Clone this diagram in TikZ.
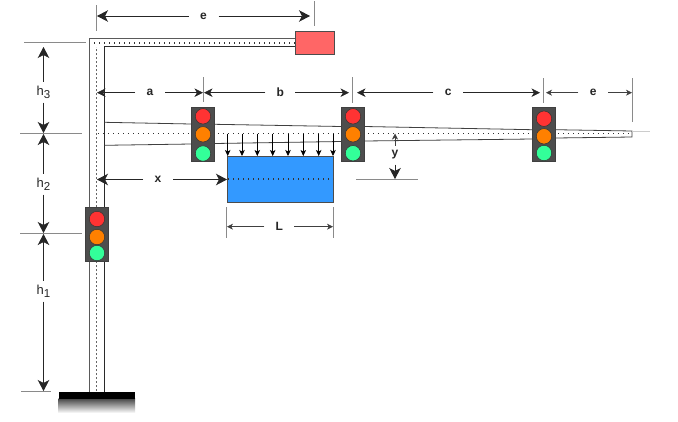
\documentclass[tikz,border=0pt]{standalone}
\usepackage{fontspec}
\setmainfont{Liberation Sans}
\usetikzlibrary{arrows.meta,shadings,calc}
\definecolor{sigbody}{HTML}{4D4D4D}
\definecolor{sigred}{HTML}{FF3333}
\definecolor{sigorange}{HTML}{FF8000}
\definecolor{siggreen}{HTML}{33FF99}
\definecolor{boxred}{HTML}{FF6666}
\definecolor{boxblue}{HTML}{3399FF}
\definecolor{extgrey}{HTML}{8A8A8A}
\definecolor{poleL}{HTML}{5A5A5A}
\definecolor{poleR}{HTML}{2A2A2A}
\tikzset{
  sig/.style={draw=black!75,fill=sigbody,line width=.6pt,minimum width=23.4pt,minimum height=54pt,inner sep=0,outer sep=0},
  lamp/.style={circle,draw=black!80,line width=.5pt,minimum size=15.4pt,inner sep=0,outer sep=0},
  ext/.style={draw=extgrey,line width=1pt},
  pole/.style={line width=1pt},
  dots/.style={line width=1.2pt,draw=black!80,dash pattern=on 1.2pt off 3.8pt},
  big/.style={draw=black!85,line width=.7pt,-{Stealth[length=11pt,width=11.5pt,inset=3pt]}},
  mid/.style={draw=black!85,line width=.7pt,-{Stealth[length=8.5pt,width=8.5pt,inset=2.5pt]}},
  small/.style={draw=black!75,line width=.7pt,-{Stealth[length=6pt,width=6pt,inset=1.8pt]}},
  load/.style={draw=black,line width=.7pt,-{Stealth[length=6pt,width=5.5pt,inset=1.5pt]}},
  lab/.style={font=\fontsize{12}{14}\selectfont\bfseries,text=black!85,inner sep=0,outer sep=0,minimum width=30pt,minimum height=14pt},
  hlab/.style={font=\fontsize{13}{15}\selectfont,text=black!85,inner sep=0,outer sep=0,minimum width=20pt,minimum height=21pt},
}
\newcommand{\trafficsig}[6]{%
  \node[sig] (#1) at (#2,#3) {};
  \node[lamp,fill=sigred] (#1r) at (#2,#4) {};
  \node[lamp,fill=sigorange] (#1o) at (#2,#5) {};
  \node[lamp,fill=siggreen] (#1g) at (#2,#6) {};
}
\newcommand{\hsub}[1]{h\raisebox{-3pt}{\fontsize{11.5}{13}\selectfont #1}}
\begin{document}
\begin{tikzpicture}[x=1pt,y=-1pt]
\useasboundingbox (0,0) rectangle (678,421);
\fill[white] (0,0) rectangle (678,421);

% ground
\shade[top color=black!75,bottom color=white] (58.7,398) rectangle (135,413);
\node[fill=black,draw=none,minimum width=76.3pt,minimum height=7.6pt,inner sep=0,outer sep=0] (ground) at (96.85,395.5) {};

% gantry pole and arm
\coordinate (pBL) at (89,391.7);
\coordinate (pTL) at (89,38.5);
\coordinate (aTR) at (295.3,38.5);
\coordinate (pBR) at (104.3,391.7);
\coordinate (pIn) at (104.3,46);
\coordinate (aBR) at (295.3,46);
\draw[pole,draw=poleL] (pBL) -- (pTL) -- (aTR);
\draw[pole,draw=poleR] (pBR) -- (pIn) -- (aBR);
\coordinate (dpB) at (96.7,391);
\coordinate (dpT) at (96.7,47);
\draw[draw=black!60,line width=.8pt,dash pattern=on 2pt off 2pt] (dpB) -- (dpT);
\coordinate (daL) at (94,43);
\coordinate (daR) at (295,43);
\draw[dots] (daL) -- (daR);
\node[draw=black!70,fill=boxred,line width=.7pt,minimum width=38.7pt,minimum height=23pt,inner sep=0,outer sep=0] (head) at (314.6,42.5) {};

% tapered beam
\coordinate (bT0) at (104.5,122.3);
\coordinate (bT1) at (191.3,124);
\coordinate (bT2) at (214.7,124.3);
\coordinate (bT3) at (341.3,126.5);
\coordinate (bT4) at (364.7,126.5);
\coordinate (bT5) at (532.3,129.7);
\coordinate (bT6) at (555.7,129.7);
\coordinate (bT7) at (632,131);
\coordinate (bB0) at (104.5,145.3);
\coordinate (bB1) at (191.3,144);
\coordinate (bB2) at (214.7,143.5);
\coordinate (bB3) at (341.3,141.5);
\coordinate (bB4) at (364.7,141);
\coordinate (bB5) at (532.3,139);
\coordinate (bB6) at (555.7,138);
\coordinate (bB7) at (632,137);
\coordinate (bTail) at (650,131);
\draw[line width=.8pt,draw=black!75] (bT0) -- (bT1) (bT2) -- (bT3) (bT4) -- (bT5) (bT6) -- (bT7) -- (bB7) -- (bB6) (bB5) -- (bB4) (bB3) -- (bB2) (bB1) -- (bB0);
\draw[line width=.8pt,draw=black!20] (bT7) -- (bTail);
\coordinate (bdL) at (98,133.3);
\coordinate (bdR) at (629,133.3);
\draw[dots] (bdL) -- (bdR);

% load
\foreach \i/\xx in {1/227.7,2/242,3/257.3,4/272.7,5/288,6/303.3,7/318.7,8/333}{
  \coordinate (lt\i) at (\xx,133.5);
  \coordinate (lb\i) at (\xx,156);
  \draw[load] (lt\i) -- (lb\i);
}
\node[draw=black!70,fill=boxblue,line width=.7pt,minimum width=106.7pt,minimum height=46pt,inner sep=0,outer sep=0] (sign) at (280.3,179) {};
\coordinate (sdL) at (228,179);
\coordinate (sdR) at (333,179);
\draw[dots] (sdL) -- (sdR);

% signals
\trafficsig{s0}{97}{234.5}{219}{237}{253}
\trafficsig{s1}{203}{134.7}{116.3}{134.3}{153.5}
\trafficsig{s2}{353}{134.7}{116.3}{134.3}{153.2}
\trafficsig{s3}{544}{134.7}{118.7}{136.3}{153}

% extension lines
\coordinate (x1a) at (24,42.5);   \coordinate (x1b) at (86,42.5);
\coordinate (x2a) at (20,133.5);  \coordinate (x2b) at (82,133.5);
\coordinate (x3a) at (20,233.7);  \coordinate (x3b) at (82,233.7);
\coordinate (x4a) at (21,391);    \coordinate (x4b) at (51,391);
\coordinate (x5a) at (96.7,5);    \coordinate (x5b) at (96.7,31);
\coordinate (x6a) at (314,1);     \coordinate (x6b) at (314,26);
\coordinate (x7a) at (203.5,77);  \coordinate (x7b) at (203.5,102);
\coordinate (x8a) at (352.7,77);  \coordinate (x8b) at (352.7,103);
\coordinate (x9a) at (543.7,78);  \coordinate (x9b) at (543.7,103);
\coordinate (x10a) at (632,78);   \coordinate (x10b) at (632,122);
\coordinate (x11a) at (226.7,207);\coordinate (x11b) at (226.7,238);
\coordinate (x12a) at (333.3,207);\coordinate (x12b) at (333.3,238);
\coordinate (x13a) at (356,179);  \coordinate (x13b) at (418,179);
\foreach \i in {1,...,13}{\draw[ext] (x\i a) -- (x\i b);}

% dimension labels
\node[lab] (le) at (203.5,16) {e};
\node[lab] (la) at (150,92.7) {a};
\node[lab] (lb) at (280.3,92.7) {b};
\node[lab] (lc) at (448.3,92.7) {c};
\node[lab] (lf) at (593.3,92.7) {e};
\node[lab] (lx) at (158,179.5) {x};
\node[lab] (lL) at (279.3,226.7) {L};
\node[lab,minimum width=14pt,minimum height=19pt] (ly) at (395,155) {y};
\node[hlab] (h3) at (43.5,92) {\hsub{3}};
\node[hlab] (h2) at (43.5,184) {\hsub{2}};
\node[hlab] (h1) at (43.5,291) {\hsub{1}};

% dimension arrows
\coordinate (e1) at (97,16);      \coordinate (e2) at (310,16);
\draw[big] (le) -- (e1); \draw[big] (le) -- (e2);
\coordinate (a1) at (97,92.7);    \coordinate (a2) at (203,92.7);
\draw[mid] (la) -- (a1); \draw[mid] (la) -- (a2);
\coordinate (b1) at (204,92.7);   \coordinate (b2) at (349,92.7);
\draw[mid] (lb) -- (b1); \draw[mid] (lb) -- (b2);
\coordinate (c1) at (357,92.7);   \coordinate (c2) at (540,92.7);
\draw[mid] (lc) -- (c1); \draw[mid] (lc) -- (c2);
\coordinate (f1) at (546,92.7);   \coordinate (f2) at (632,92.7);
\draw[small] (lf) -- (f1); \draw[small] (lf) -- (f2);
\coordinate (xx1) at (97,179.5);  \coordinate (xx2) at (227,179.5);
\draw[big] (lx) -- (xx1); \draw[big] (lx) -- (xx2);
\coordinate (L1) at (227,226.7);  \coordinate (L2) at (333,226.7);
\draw[small] (lL) -- (L1); \draw[small] (lL) -- (L2);
\coordinate (y1) at (395,133.5);  \coordinate (y2) at (395,179);
\draw[small] (ly) -- (y1); \draw[big] (ly) -- (y2);
\coordinate (h31) at (43.5,47);   \coordinate (h32) at (43.5,133);
\draw[big] (h3) -- (h31); \draw[big] (h3) -- (h32);
\coordinate (h21) at (43.5,134);  \coordinate (h22) at (43.5,233);
\draw[big] (h2) -- (h21); \draw[big] (h2) -- (h22);
\coordinate (h11) at (43.5,234);  \coordinate (h12) at (43.5,391);
\draw[big] (h1) -- (h11); \draw[big] (h1) -- (h12);
\end{tikzpicture}
\end{document}
